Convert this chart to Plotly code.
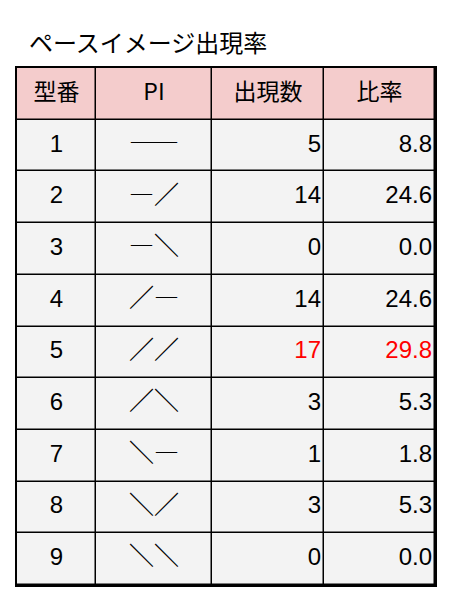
import plotly.graph_objects as go

# データ
header_labels = ['型番', 'PI', '出現数', '比率']
type_no = ['1', '2', '3', '4', '5', '6', '7', '8', '9']
pace_image = ['――', '―／', '―＼', '／―', '／／', '／＼', '＼―', '＼／', '＼＼']
counts = [5, 14, 0, 14, 17, 3, 1, 3, 0]
ratios = [8.8, 24.6, 0.0, 24.6, 29.8, 5.3, 1.8, 5.3, 0.0]
highlight = '5'  # 最多の型番を赤字

# ページの body margin (8px) 分を差し引いたサイズ
W, H = 444, 596
col_edges = [0, 79, 195, 307, 418]   # 列の境界(px)
n_rows = len(type_no) + 1            # ヘッダ + データ行

# セル背景: ヘッダ=1 (ピンク), 本体=0 (グレー)
z = [[1] * 4] + [[0] * 4 for _ in type_no]
row_edges = list(range(n_rows + 1))

fig = go.Figure()
fig.add_trace(go.Heatmap(z=z, x=col_edges, y=row_edges,
                         colorscale=[[0, '#f3f3f3'], [1, '#f4cccc']],
                         zmin=0, zmax=1, showscale=False,
                         xgap=1.5, ygap=1.5, hoverinfo='skip'))

centers = [(col_edges[i] + col_edges[i + 1]) / 2 for i in range(4)]
font_fam = 'Liberation Sans, Noto Sans CJK JP'

# ヘッダ
fig.add_trace(go.Scatter(x=centers, y=[0.5] * 4, mode='text', text=header_labels,
                         textposition='middle center', hoverinfo='skip',
                         textfont=dict(family='Noto Sans CJK JP, Liberation Sans', size=23, color='black')))

ys = [i + 1.5 for i in range(len(type_no))]
row_col = ['#ff0000' if t == highlight else 'black' for t in type_no]

# 型番, PI (中央揃え)
fig.add_trace(go.Scatter(x=[centers[0]] * len(ys), y=ys, mode='text', text=type_no,
                         textposition='middle center', hoverinfo='skip',
                         textfont=dict(family=font_fam, size=24, color='black')))
fig.add_trace(go.Scatter(x=[centers[1]] * len(ys), y=ys, mode='text', text=pace_image,
                         textposition='middle center', hoverinfo='skip',
                         textfont=dict(family='Noto Sans CJK JP', size=25, color='black', weight=500)))
# 出現数, 比率 (右揃え)
fig.add_trace(go.Scatter(x=[col_edges[3] - 3] * len(ys), y=ys, mode='text',
                         text=[str(c) for c in counts],
                         textposition='middle left', hoverinfo='skip',
                         textfont=dict(family=font_fam, size=24, color=row_col)))
fig.add_trace(go.Scatter(x=[col_edges[4] - 3] * len(ys), y=ys, mode='text',
                         text=['{:.1f}'.format(r) for r in ratios],
                         textposition='middle left', hoverinfo='skip',
                         textfont=dict(family=font_fam, size=24, color=row_col)))

fig.add_annotation(text='ペースイメージ出現率', xref='paper', yref='paper',
                   x=(27 - 17) / 418, y=1 + (68 - 42) / 517,
                   xanchor='left', yanchor='middle', showarrow=False,
                   font=dict(family='Noto Sans CJK JP', size=24, color='black'))

axis_style = dict(showgrid=False, zeroline=False, showticklabels=False, ticks='',
                  showline=True, mirror=True, linecolor='black', linewidth=1.5)
fig.update_xaxes(range=[0, 418], fixedrange=True, **axis_style)
fig.update_yaxes(range=[n_rows, 0], fixedrange=True, **axis_style)

fig.update_layout(width=W, height=H, margin=dict(l=9, r=17, t=60, b=19),
                  paper_bgcolor='white', plot_bgcolor='black', showlegend=False)

fig.write_html('out.html')
